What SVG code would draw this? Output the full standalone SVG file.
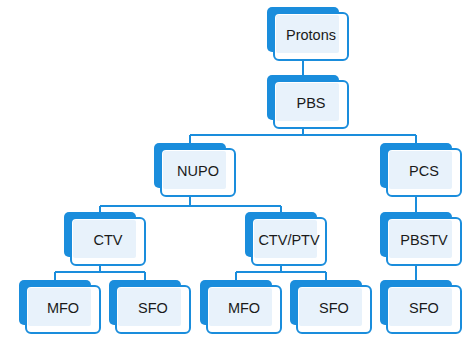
<svg xmlns="http://www.w3.org/2000/svg" width="474" height="344" viewBox="0 0 474 344">
<defs>
<style>
.bk{fill:#1a8ddc;}
.fr{fill:#ffffff;stroke:#1a8ddc;stroke-width:2;}
.in{fill:#e8f2fb;}
.c{fill:none;stroke:#1a8ddc;stroke-width:2;}
text{font-family:"Liberation Sans",Arial,sans-serif;font-size:14.5px;fill:#1a1a1a;text-anchor:middle;dominant-baseline:central;}
</style>
<g id="box">
<rect class="bk" x="0" y="0" width="72" height="45" rx="5"/>
<rect class="fr" x="7" y="6" width="74" height="47" rx="5"/>
<rect class="in" x="9" y="8" width="63" height="38" rx="2"/>
</g>
</defs>
<rect width="474" height="344" fill="#ffffff"/>
<g id="connectors">
<path class="c" d="M303 60V75"/>
<path class="c" d="M303 128V135M190 135H416M190 135V143M416 135V143"/>
<path class="c" d="M190 196V206M100 206H281M100 206V212M281 206V212"/>
<path class="c" d="M416 196V212"/>
<path class="c" d="M100 265V272M55 272H145M55 272V280M145 272V280"/>
<path class="c" d="M281 265V272M236 272H326M236 272V280M326 272V280"/>
<path class="c" d="M416 265V280"/>
</g>
<g id="protons"><use href="#box" x="267" y="7"/><text x="311" y="35">Protons</text></g>
<g id="pbs"><use href="#box" x="267" y="75"/><text x="311" y="103">PBS</text></g>
<g id="nupo"><use href="#box" x="154" y="143"/><text x="198" y="171">NUPO</text></g>
<g id="pcs"><use href="#box" x="380" y="143"/><text x="424" y="171">PCS</text></g>
<g id="ctv"><use href="#box" x="64" y="212"/><text x="108" y="240">CTV</text></g>
<g id="ctvptv"><use href="#box" x="245" y="212"/><text x="289" y="240">CTV/PTV</text></g>
<g id="pbstv"><use href="#box" x="380" y="212"/><text x="424" y="240">PBSTV</text></g>
<g id="mfo1"><use href="#box" x="19" y="280"/><text x="63" y="308">MFO</text></g>
<g id="sfo1"><use href="#box" x="109" y="280"/><text x="153" y="308">SFO</text></g>
<g id="mfo2"><use href="#box" x="200" y="280"/><text x="244" y="308">MFO</text></g>
<g id="sfo2"><use href="#box" x="290" y="280"/><text x="334" y="308">SFO</text></g>
<g id="sfo3"><use href="#box" x="380" y="280"/><text x="424" y="308">SFO</text></g>
</svg>
